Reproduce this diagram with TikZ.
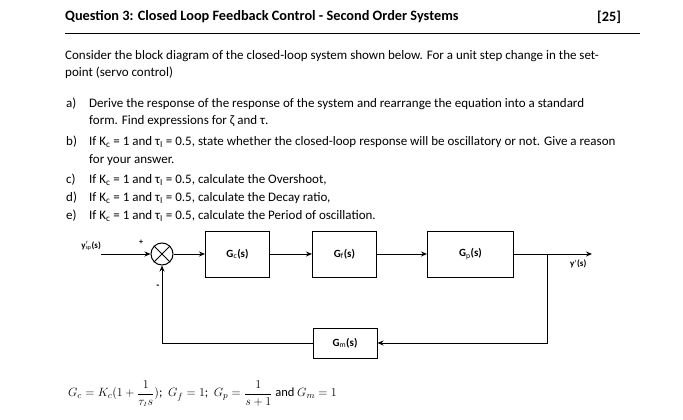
\documentclass[tikz,border=0pt]{standalone}
\usepackage{fontspec}
\setmainfont{Carlito}
\usetikzlibrary{arrows.meta}
\begin{document}
\begin{tikzpicture}[x=1pt,y=-1pt,
  txt/.style={anchor=west,inner sep=0pt,font=\fontsize{13}{15}\selectfont},
  blk/.style={draw,line width=1pt,minimum width=64pt,minimum height=46pt,font=\bfseries\fontsize{11}{13}\selectfont},
  sig/.style={line width=1pt,-{Stealth[length=6pt,width=5pt]}}]
\useasboundingbox (0,0) rectangle (683,420);
\node[txt,font=\bfseries\fontsize{14.3}{16}\selectfont] (title) at (65,17) {Question 3: Closed Loop Feedback Control - Second Order Systems};
\node[txt,font=\bfseries\fontsize{14.3}{16}\selectfont] (mark) at (597,17) {[25]};
\draw[line width=0.5pt] (65,33) -- (640,33);
\node[txt] (p1) at (65,56) {Consider the block diagram of the closed-loop system shown below. For a unit step change in the set-};
\node[txt] (p2) at (65,73) {point (servo control)};
\node[txt] (la) at (66,104) {a)};
\node[txt] (ta) at (89,104) {Derive the response of the response of the system and rearrange the equation into a standard};
\node[txt] (ta2) at (89,121) {form. Find expressions for ζ and τ.};
\node[txt] (lb) at (66,142) {b)};
\node[txt] (tb) at (89,142) {If K$_\mathrm{c}$ = 1 and τ$_\mathrm{I}$ = 0.5, state whether the closed-loop response will be oscillatory or not. Give a reason};
\node[txt] (tb2) at (89,160) {for your answer.};
\node[txt] (lc) at (66,180) {c)};
\node[txt] (tc) at (89,180) {If K$_\mathrm{c}$ = 1 and τ$_\mathrm{I}$ = 0.5, calculate the Overshoot,};
\node[txt] (ld) at (66,198) {d)};
\node[txt] (td) at (89,198) {If K$_\mathrm{c}$ = 1 and τ$_\mathrm{I}$ = 0.5, calculate the Decay ratio,};
\node[txt] (le) at (66,216) {e)};
\node[txt] (te) at (89,216) {If K$_\mathrm{c}$ = 1 and τ$_\mathrm{I}$ = 0.5, calculate the Period of oscillation.};
% diagram
\coordinate (in) at (101,254);
\node[txt,font=\bfseries\fontsize{9}{10}\selectfont,anchor=east] (ysp) at (101,246) {y$'_{\mathrm{sp}}$(s)};
\node[draw,circle,line width=1pt,minimum size=22pt,inner sep=0pt] (sum) at (162,254) {};
\draw[line width=1pt] (sum.north west) -- (sum.south east) (sum.north east) -- (sum.south west);
\node[blk] (gc) at (237.5,254) {G$_\mathrm{c}$(s)};
\node[blk] (gf) at (344.5,254) {G$_\mathrm{f}$(s)};
\node[blk,minimum width=86pt] (gp) at (470.5,254) {G$_\mathrm{p}$(s)};
\node[blk,minimum height=30pt] (gm) at (345,343) {G$_\mathrm{m}$(s)};
\coordinate (out) at (592,254);
\coordinate (br) at (547,254);
\node[txt,font=\bfseries\fontsize{9}{10}\selectfont] (yo) at (570,264) {y$'$(s)};
\node[font=\bfseries\fontsize{8}{9}\selectfont] (plus) at (141,242) {+};
\node[font=\bfseries\fontsize{10}{10}\selectfont] (minus) at (158,287) {-};
\draw[sig] (in) -- (sum);
\draw[sig] (sum) -- (gc);
\draw[sig] (gc) -- (gf);
\draw[sig] (gf) -- (gp);
\draw[sig] (gp) -- (out);
\draw[sig] (br) |- (gm);
\draw[sig] (gm) -| (sum);
\node[anchor=west,inner sep=0pt,font=\fontsize{12.5}{14}\selectfont] (eq) at (68,394)
  {$\displaystyle G_c = K_c(1+\frac{1}{\tau_{\scriptscriptstyle I} s})$;\ \ $G_f=1$;\ \ $\displaystyle G_p=\frac{1}{s+1}$\ and\ $G_m=1$};
\end{tikzpicture}
\end{document}
